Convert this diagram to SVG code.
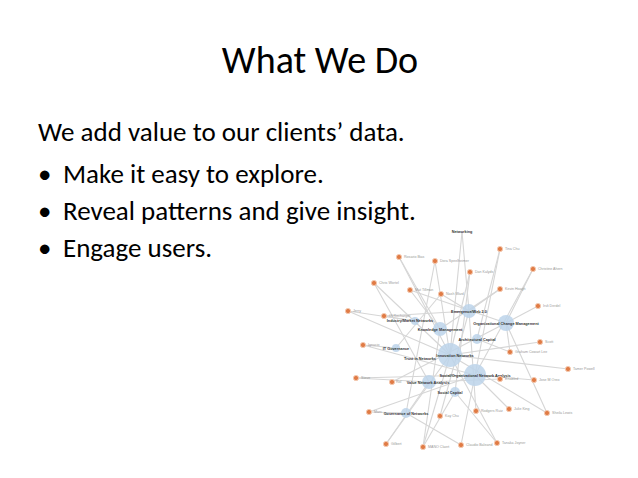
<svg xmlns="http://www.w3.org/2000/svg" width="638" height="478" viewBox="0 0 638 478">
<style>
.t{font-family:Carlito,"Open Sans","Liberation Sans",sans-serif;fill:#000}
.p{fill:#e07b45;stroke:#f4c9b0;stroke-width:1}
.h{fill:#bcd3ea;opacity:.85}
.l{font-family:"Liberation Sans",Arial,sans-serif;font-size:3.6px;fill:#999}
.b{font-family:"Liberation Sans",Arial,sans-serif;font-size:3.8px;font-weight:bold;fill:#333}
#edges line{stroke:#d6d6d6;stroke-width:1.1}
</style>
<rect width="638" height="478" fill="#fff"/>
<text class="t" x="320" y="73" font-size="38" text-anchor="middle">What We Do</text>
<text class="t" x="38" y="141" font-size="27">We add value to our clients’ data.</text>
<g class="t" font-size="27">
<text x="38" y="183">•</text><text x="63" y="183">Make it easy to explore.</text>
<text x="38" y="220">•</text><text x="63" y="220">Reveal patterns and give insight.</text>
<text x="38" y="257">•</text><text x="63" y="257">Engage users.</text>
</g>
<g id="edges">
<line x1="450" y1="355" x2="399" y2="257"/><line x1="450" y1="355" x2="435" y2="261"/>
<line x1="450" y1="355" x2="470" y2="272"/><line x1="450" y1="355" x2="462" y2="232"/>
<line x1="450" y1="355" x2="374" y2="283"/><line x1="450" y1="355" x2="348" y2="311"/>
<line x1="450" y1="355" x2="540" y2="342"/><line x1="450" y1="355" x2="568" y2="369"/>
<line x1="450" y1="355" x2="386" y2="444"/><line x1="450" y1="355" x2="497" y2="443"/>
<line x1="450" y1="355" x2="423" y2="447"/><line x1="450" y1="355" x2="547" y2="413"/>
<line x1="475" y1="375" x2="500" y2="249"/><line x1="475" y1="375" x2="533" y2="269"/>
<line x1="475" y1="375" x2="363" y2="345"/><line x1="475" y1="375" x2="356" y2="378"/>
<line x1="475" y1="375" x2="461" y2="445"/><line x1="475" y1="375" x2="509" y2="409"/>
<line x1="475" y1="375" x2="534" y2="380"/><line x1="475" y1="375" x2="369" y2="412"/>
<line x1="469" y1="311" x2="462" y2="232"/><line x1="469" y1="311" x2="500" y2="289"/>
<line x1="469" y1="311" x2="441" y2="294"/><line x1="469" y1="311" x2="384" y2="316"/>
<line x1="469" y1="311" x2="440" y2="416"/><line x1="469" y1="311" x2="476" y2="411"/>
<line x1="506" y1="323" x2="538" y2="306"/><line x1="506" y1="323" x2="533" y2="269"/>
<line x1="506" y1="323" x2="410" y2="290"/><line x1="506" y1="323" x2="392" y2="382"/>
<line x1="506" y1="323" x2="547" y2="413"/><line x1="506" y1="323" x2="510" y2="352"/>
<line x1="440" y1="329" x2="399" y2="257"/><line x1="440" y1="329" x2="410" y2="290"/>
<line x1="440" y1="329" x2="500" y2="289"/><line x1="440" y1="329" x2="423" y2="447"/>
<line x1="429" y1="382" x2="356" y2="378"/><line x1="429" y1="382" x2="500" y2="379"/>
<line x1="429" y1="382" x2="386" y2="444"/><line x1="429" y1="382" x2="374" y2="283"/>
<line x1="455" y1="392" x2="497" y2="443"/><line x1="455" y1="392" x2="423" y2="447"/>
<line x1="455" y1="392" x2="470" y2="272"/><line x1="406" y1="413" x2="369" y2="412"/>
<line x1="406" y1="413" x2="461" y2="445"/><line x1="406" y1="413" x2="435" y2="261"/>
<line x1="396" y1="348" x2="363" y2="345"/><line x1="396" y1="348" x2="441" y2="294"/>
<line x1="415" y1="321" x2="384" y2="316"/><line x1="415" y1="321" x2="348" y2="311"/>
<line x1="477" y1="339" x2="510" y2="352"/><line x1="477" y1="339" x2="500" y2="249"/>
</g>
<g id="hubs">
<circle class="h" cx="450" cy="355" r="12"/><circle class="h" cx="475" cy="375" r="11"/>
<circle class="h" cx="469" cy="311" r="7"/><circle class="h" cx="506" cy="323" r="8"/>
<circle class="h" cx="440" cy="329" r="7"/><circle class="h" cx="429" cy="382" r="7"/>
<circle class="h" cx="477" cy="339" r="5"/><circle class="h" cx="455" cy="392" r="5"/>
<circle class="h" cx="396" cy="348" r="4"/><circle class="h" cx="415" cy="321" r="4"/>
<circle class="h" cx="406" cy="413" r="5"/>
</g>
<g id="hublabels">
<text class="b" x="462" y="233" text-anchor="middle">Networking</text>
<text class="b" x="469" y="313" text-anchor="middle">Emergence/Web 2.0</text>
<text class="b" x="506" y="325" text-anchor="middle">Organizational Change Management</text>
<text class="b" x="440" y="331" text-anchor="middle">Knowledge Management</text>
<text class="b" x="410" y="322" text-anchor="middle">Industry/Market Networks</text>
<text class="b" x="477" y="341" text-anchor="middle">Architectural Capital</text>
<text class="b" x="396" y="350" text-anchor="middle">IT Governance</text>
<text class="b" x="455" y="357" text-anchor="middle">Innovation Networks</text>
<text class="b" x="420" y="360" text-anchor="middle">Trust in Networks</text>
<text class="b" x="475" y="377" text-anchor="middle">Social/Organizational Network Analysis</text>
<text class="b" x="428" y="384" text-anchor="middle">Value Network Analysis</text>
<text class="b" x="450" y="394" text-anchor="middle">Social Capital</text>
<text class="b" x="406" y="415" text-anchor="middle">Governance of Networks</text>
</g>
<g id="people">
<circle class="p" cx="500" cy="249" r="2.6"/><text class="l" x="505" y="250">Tina Chu</text>
<circle class="p" cx="399" cy="257" r="2.6"/><text class="l" x="404" y="258">Rosario Bias</text>
<circle class="p" cx="435" cy="261" r="2.6"/><text class="l" x="440" y="262">Dora Speelheimer</text>
<circle class="p" cx="470" cy="272" r="2.6"/><text class="l" x="475" y="273">Dan Kalyds</text>
<circle class="p" cx="533" cy="269" r="2.6"/><text class="l" x="538" y="270">Christine Ahern</text>
<circle class="p" cx="374" cy="283" r="2.6"/><text class="l" x="379" y="284">Chris Wortel</text>
<circle class="p" cx="410" cy="290" r="2.6"/><text class="l" x="415" y="291">Mat Tillman</text>
<circle class="p" cx="441" cy="294" r="2.6"/><text class="l" x="446" y="295">Nash Ward</text>
<circle class="p" cx="500" cy="289" r="2.6"/><text class="l" x="505" y="290">Kevin Hoagh</text>
<circle class="p" cx="538" cy="306" r="2.6"/><text class="l" x="543" y="307">Irvli Derdel</text>
<circle class="p" cx="348" cy="311" r="2.6"/><text class="l" x="353" y="312">Jerry</text>
<circle class="p" cx="384" cy="316" r="2.6"/><text class="l" x="389" y="317">Ol Recharger</text>
<circle class="p" cx="363" cy="345" r="2.6"/><text class="l" x="368" y="346">Ignacio</text>
<circle class="p" cx="540" cy="342" r="2.6"/><text class="l" x="545" y="343">Scott</text>
<circle class="p" cx="510" cy="352" r="2.6"/><text class="l" x="515" y="353">Graham Cowart Lee</text>
<circle class="p" cx="568" cy="369" r="2.6"/><text class="l" x="573" y="370">Tamer Powell</text>
<circle class="p" cx="356" cy="378" r="2.6"/><text class="l" x="361" y="379">Steve</text>
<circle class="p" cx="392" cy="382" r="2.6"/><text class="l" x="396" y="383">Rol</text>
<circle class="p" cx="500" cy="379" r="2.6"/><text class="l" x="505" y="380">Enabled</text>
<circle class="p" cx="534" cy="380" r="2.6"/><text class="l" x="539" y="381">Jose M Oreo</text>
<circle class="p" cx="369" cy="412" r="2.6"/><text class="l" x="374" y="413">Marc</text>
<circle class="p" cx="440" cy="416" r="2.6"/><text class="l" x="445" y="417">Kay Chu</text>
<circle class="p" cx="476" cy="411" r="2.6"/><text class="l" x="481" y="412">Rodgers Ruiz</text>
<circle class="p" cx="509" cy="409" r="2.6"/><text class="l" x="514" y="410">Julie King</text>
<circle class="p" cx="547" cy="413" r="2.6"/><text class="l" x="552" y="414">Sheila Lewis</text>
<circle class="p" cx="386" cy="444" r="2.6"/><text class="l" x="391" y="445">Gilbert</text>
<circle class="p" cx="423" cy="447" r="2.6"/><text class="l" x="428" y="448">MANO Claert</text>
<circle class="p" cx="461" cy="445" r="2.6"/><text class="l" x="466" y="446">Claudio Baleand</text>
<circle class="p" cx="497" cy="443" r="2.6"/><text class="l" x="502" y="444">Tanaka Joyner</text>
</g>
</svg>
